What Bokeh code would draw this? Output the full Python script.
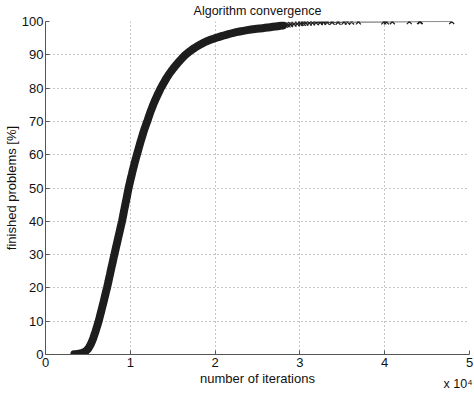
from bokeh.plotting import figure
from bokeh.models import Range1d, FixedTicker, Title
from bokeh.embed import file_html
from bokeh.resources import INLINE

# cumulative share of finished problems [%] vs iterations needed
finished_pct = [
    0.05, 0.1, 0.2, 0.3, 0.5, 0.7, 1, 1.5, 2, 3, 4, 5, 6, 7, 8, 9,
    10, 11, 12, 13, 14, 15, 16, 17, 18, 19, 20, 21, 22, 23, 24, 25,
    26, 27, 28, 29, 30, 31, 32, 33, 34, 35, 36, 37, 38, 39, 40, 41,
    42, 43, 44, 45, 46, 47, 48, 49, 50, 51, 52, 53, 54, 55, 56, 57,
    58, 59, 60, 61, 62, 63, 64, 65, 66, 67, 68, 69, 70, 71, 72, 73,
    74, 75, 76, 77, 78, 79, 80, 81, 82, 83, 84, 85, 86, 87, 88, 89,
    90, 90.5, 91, 91.5, 92, 92.5, 93, 93.5, 94, 94.5, 95,
    95.2, 95.4, 95.6, 95.8, 96, 96.2, 96.4, 96.6, 96.8, 97,
    97.2, 97.4, 97.6, 97.8, 98, 98.1, 98.2, 98.3, 98.4, 98.5,
    98.6, 98.7, 98.8, 98.9, 99, 99.1, 99.2, 99.3, 99.4, 99.45,
    99.5, 99.55, 99.6, 99.65, 99.7, 99.72, 99.74,
    99.76, 99.78, 99.8, 99.82, 99.84, 99.86, 99.88, 99.9, 99.92,
    99.94, 99.96, 99.98, 100.0,
]
iterations = [
    3400, 3600, 3900, 4100, 4350, 4550, 4750, 4950, 5100, 5320, 5500, 5650, 5780, 5910, 6030, 6150,
    6270, 6370, 6470, 6570, 6670, 6770, 6870, 6960, 7060, 7150, 7250, 7340, 7430, 7510, 7600, 7680,
    7770, 7860, 7950, 8030, 8120, 8210, 8300, 8390, 8480, 8570, 8660, 8750, 8840, 8930, 9020, 9100,
    9180, 9250, 9330, 9410, 9490, 9570, 9650, 9720, 9800, 9890, 9980, 10070, 10170, 10260, 10360, 10460,
    10560, 10670, 10780, 10890, 11000, 11110, 11220, 11340, 11460, 11580, 11710, 11850, 12000, 12130, 12260, 12400,
    12550, 12700, 12870, 13040, 13220, 13410, 13600, 13820, 14040, 14270, 14520, 14800, 15100, 15420, 15760, 16120,
    16500, 16750, 17000, 17270, 17550, 17850, 18200, 18550, 18950, 19450, 20000,
    20250, 20500, 20760, 21030, 21300, 21580, 21870, 22170, 22500, 22900,
    23330, 23780, 24250, 24900, 25600, 25900, 26200, 26500, 26800, 27100,
    27400, 27700, 28000, 28300, 28600, 28900, 29300, 29700, 30100, 30400,
    30700, 31100, 31500, 31900, 32400, 32800, 33200,
    33800, 34500, 35200, 35600, 36100, 36900, 39900, 40200, 40900, 42900,
    44100, 44200, 47900,
]

x_ticks = [0, 10000, 20000, 30000, 40000, 50000]
x_tick_labels = ["0", "1", "2", "3", "4", "5"]
y_ticks = [0, 10, 20, 30, 40, 50, 60, 70, 80, 90, 100]

FONT = "Liberation Sans"
INK = "#1e1e1e"
TXT = "#111111"

p = figure(width=474, height=393, output_backend="svg", toolbar_location=None,
           x_range=Range1d(0, 50000), y_range=Range1d(0, 100),
           min_border_left=45, min_border_right=5, min_border_top=21, min_border_bottom=39)
p.outline_line_color = None
p.background_fill_color = "white"
p.border_fill_color = "white"

p.title.text = "Algorithm convergence"
p.title.align = "center"
p.title.vertical_align = "top"
p.title.text_font = FONT
p.title.text_font_size = "12.5px"
p.title.text_font_style = "normal"
p.title.text_color = TXT
p.title.standoff = 4

for ax in (p.xaxis[0], p.yaxis[0]):
    ax.major_tick_in = 4
    ax.major_tick_out = 0
    ax.minor_tick_line_color = None
    ax.axis_line_color = "#555555"
    ax.major_tick_line_color = "#555555"
    ax.major_label_text_font = FONT
    ax.major_label_text_font_size = "13px"
    ax.major_label_text_color = TXT
    ax.axis_label_text_font = FONT
    ax.axis_label_text_font_size = "13px"
    ax.axis_label_text_font_style = "normal"
    ax.axis_label_text_color = TXT

p.xaxis.ticker = FixedTicker(ticks=x_ticks)
p.xaxis.major_label_overrides = {t: l for t, l in zip(x_ticks, x_tick_labels)}
p.yaxis.ticker = FixedTicker(ticks=y_ticks)
p.xaxis.axis_label = "number of iterations"
p.yaxis.axis_label = "finished problems [%]"
p.xaxis.major_label_standoff = 3
p.xaxis.axis_label_standoff = 1
p.yaxis.major_label_standoff = 2
p.yaxis.axis_label_standoff = 0

p.grid.grid_line_color = "#8a8a8a"
p.grid.grid_line_dash = "1 3"
p.grid.grid_line_width = 1

# dense part of the curve: markers overlap into a solid band
n_dense = iterations.index(28000) + 1
p.line(iterations[:n_dense], finished_pct[:n_dense], line_color=INK, line_width=8,
       line_join="round", line_cap="round")
p.line(iterations, finished_pct, line_color=INK, line_width=1)
p.scatter(iterations, finished_pct, marker="x", size=7, line_color=INK, line_width=1.2)

scale = Title(text="x 10\u2074", align="right", vertical_align="top", offset=-3,
              text_font=FONT, text_font_size="12.5px",
              text_font_style="normal", text_color=TXT, standoff=-24)
p.add_layout(scale, "below")

open("out.html", "w").write(file_html(p, INLINE))
